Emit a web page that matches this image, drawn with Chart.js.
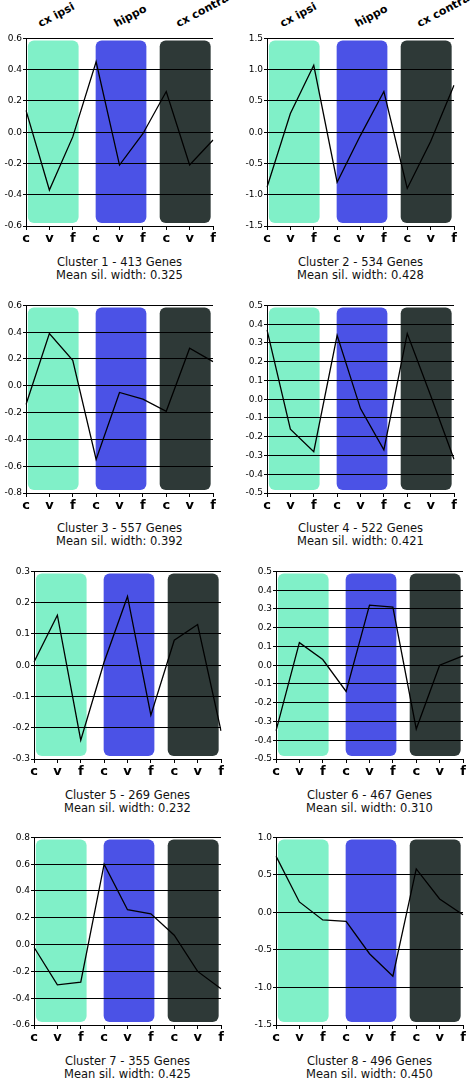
<!DOCTYPE html>
<html><head><meta charset="utf-8">
<script src="https://cdn.jsdelivr.net/npm/chart.js@4.4.1/dist/chart.umd.min.js"></script>
<style>
body{margin:0;background:#fff;width:474px;height:1078px;position:relative;overflow:hidden;font-family:"DejaVu Sans",sans-serif}
.box{position:absolute}
.cap{position:absolute;width:240px;text-align:center;font-size:11.5px;line-height:13px;color:#111}
.grp{position:absolute;font-weight:bold;font-size:11px;line-height:12px;transform:rotate(-28deg);transform-origin:left bottom;white-space:nowrap}
</style></head><body>
<script>
// 9 conditions: cx ipsi / hippo / cx contra, each c v f
var labels = ['c','v','f','c','v','f','c','v','f'];
var groups = ['cx ipsi','hippo','cx contra'];
var titles = ['Cluster 1 - 413 Genes','Cluster 2 - 534 Genes','Cluster 3 - 557 Genes','Cluster 4 - 522 Genes',
              'Cluster 5 - 269 Genes','Cluster 6 - 467 Genes','Cluster 7 - 355 Genes','Cluster 8 - 496 Genes'];
var silWidth = ['0.325','0.428','0.392','0.421','0.232','0.310','0.425','0.450'];

var c1 = [0.14,-0.37,-0.03,0.45,-0.21,-0.01,0.26,-0.21,-0.05];
var c2 = [-0.88,0.3,1.07,-0.8,-0.05,0.65,-0.9,-0.15,0.75];
var c3 = [-0.14,0.39,0.19,-0.55,-0.05,-0.1,-0.19,0.28,0.18];
var c4 = [0.37,-0.16,-0.28,0.34,-0.05,-0.27,0.35,0.02,-0.32];
var c5 = [0.01,0.16,-0.24,0.01,0.22,-0.16,0.08,0.13,-0.21];
var c6 = [-0.35,0.12,0.03,-0.14,0.32,0.31,-0.34,0.0,0.05];
var c7 = [-0.02,-0.3,-0.28,0.6,0.26,0.23,0.07,-0.2,-0.33];
var c8 = [0.75,0.14,-0.1,-0.12,-0.55,-0.85,0.58,0.18,-0.03];
var series = [c1,c2,c3,c4,c5,c6,c7,c8];

var yMin = [-0.6,-1.5,-0.8,-0.5,-0.3,-0.5,-0.6,-1.5];
var yMax = [0.6,1.5,0.6,0.5,0.3,0.5,0.8,1.0];
var yStep = [0.2,0.5,0.2,0.1,0.1,0.1,0.2,0.5];

// plot area top-left corners
var plotX = [26,267,26,267,34,276,34,276];
var plotY = [38,38,305,305,571,571,837,837];
var capY = [256,256,522,522,789,789,1055,1055];
var PW = 187, PH = 188, YW = 26, TOP = 6, XH = 22;

var bands = [[0.08,2.25,'#80f0c8'],[2.98,5.15,'#4b52e6'],[5.72,7.9,'#2e3937']];

var bandPlugin = {
  id: 'bands',
  beforeDraw: function(chart) {
    var ctx = chart.ctx, a = chart.chartArea, x = chart.scales.x;
    ctx.save();
    bands.forEach(function(b) {
      var l = x.getPixelForValue(b[0]), r = x.getPixelForValue(b[1]);
      ctx.fillStyle = b[2];
      ctx.beginPath();
      ctx.roundRect(l, a.top + 2, r - l, a.bottom - a.top - 5, 6);
      ctx.fill();
    });
    ctx.restore();
  }
};

for (var i = 0; i < 8; i++) {
  var box = document.createElement('div');
  box.className = 'box';
  box.style.left = (plotX[i] - YW) + 'px';
  box.style.top = (plotY[i] - TOP) + 'px';
  box.style.width = (PW + YW + 4) + 'px';
  box.style.height = (PH + TOP + XH) + 'px';
  var cv = document.createElement('canvas');
  box.appendChild(cv);
  document.body.appendChild(box);

  var cap = document.createElement('div');
  cap.className = 'cap';
  cap.style.left = (plotX[i] + PW / 2 - 120) + 'px';
  cap.style.top = capY[i] + 'px';
  cap.innerHTML = titles[i] + '<br>Mean sil. width: ' + silWidth[i];
  document.body.appendChild(cap);

  new Chart(cv, {
    type: 'line',
    data: { labels: labels, datasets: [{ data: series[i], borderColor: '#000', borderWidth: 1.3, pointRadius: 0, tension: 0 }] },
    options: {
      responsive: true, maintainAspectRatio: false, animation: false,
      layout: { padding: { top: TOP, right: 4, left: 0, bottom: 0 } },
      plugins: { legend: { display: false }, tooltip: { enabled: false } },
      scales: {
        x: {
          offset: false,
          afterFit: function(s) { s.height = XH; },
          grid: { drawOnChartArea: false, drawTicks: true, tickLength: 4, color: '#000' },
          border: { color: '#000', width: 1 },
          ticks: { color: '#000', padding: 1, maxRotation: 0, font: { family: 'DejaVu Sans', size: 13, weight: 'bold' } }
        },
        y: {
          min: yMin[i], max: yMax[i],
          afterFit: function(s) { s.width = YW; },
          grid: { color: '#000', lineWidth: 1, drawTicks: true, tickLength: 3 },
          border: { color: '#000', width: 1 },
          ticks: { stepSize: yStep[i], color: '#000', padding: 1, font: { family: 'DejaVu Sans', size: 9 },
                   callback: function(v) { return (Math.abs(v) < 1e-9 ? 0 : v).toFixed(1); } }
        }
      }
    },
    plugins: [bandPlugin]
  });
}

// rotated group labels over the first row
var grpX = [[42,118,180],[284,359,421]];
for (var p = 0; p < 2; p++) {
  for (var g = 0; g < 3; g++) {
    var d = document.createElement('div');
    d.className = 'grp';
    d.textContent = groups[g];
    d.style.left = grpX[p][g] + 'px';
    d.style.top = '18px';
    document.body.appendChild(d);
  }
}
</script>
</body></html>
